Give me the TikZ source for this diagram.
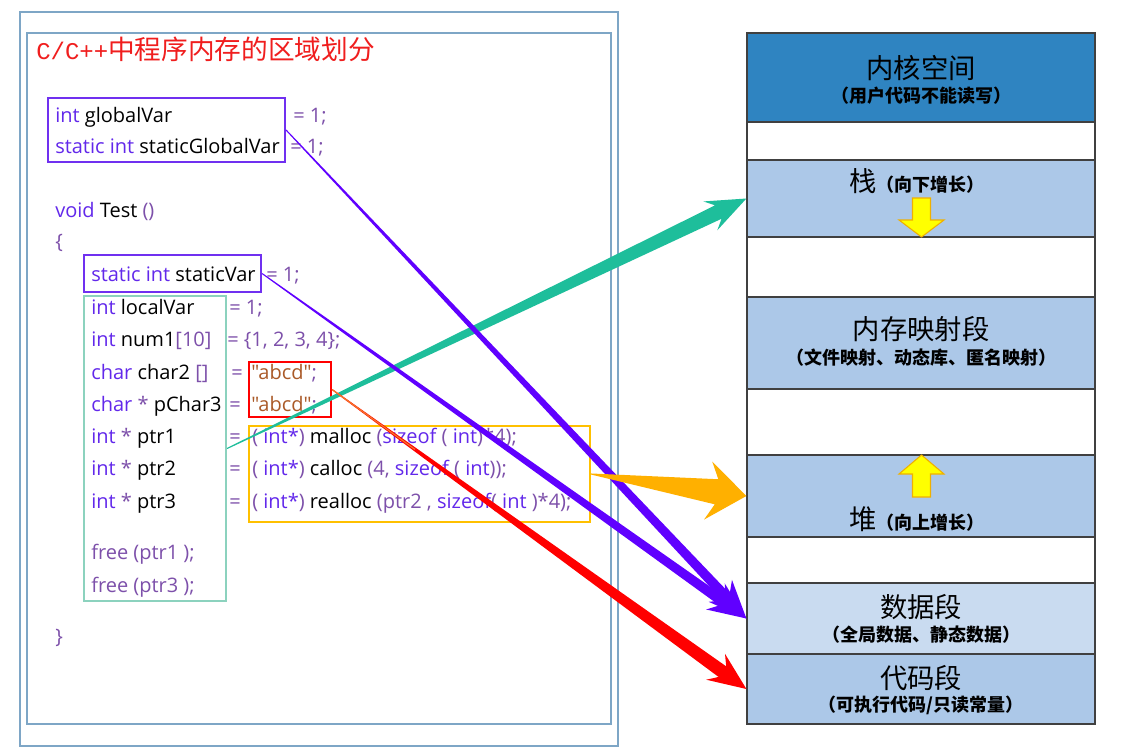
\documentclass[tikz,border=0pt]{standalone}
\usepackage{fontspec}
\setmainfont{Open Sans}[Ligatures=TeXOff]
\newfontfamily\cjk{Noto Sans CJK SC}
\newfontfamily\monof{Liberation Mono}
\usetikzlibrary{calc,fit}
\definecolor{framec}{RGB}{126,166,198}
\definecolor{kernelc}{RGB}{47,132,193}
\definecolor{segc}{RGB}{172,200,232}
\definecolor{datac}{RGB}{201,219,240}
\definecolor{segline}{RGB}{64,64,64}
\definecolor{purpbox}{RGB}{112,48,240}
\definecolor{purparr}{RGB}{96,0,255}
\definecolor{tealarr}{RGB}{30,190,155}
\definecolor{greenbox}{RGB}{140,210,190}
\definecolor{orangearr}{RGB}{255,176,0}
\definecolor{orangebox}{RGB}{255,192,0}
\definecolor{orangeline}{RGB}{245,120,40}
\definecolor{redc}{RGB}{255,0,0}
\definecolor{titlec}{RGB}{240,30,30}
\definecolor{yelc}{RGB}{255,255,0}
\definecolor{yelline}{RGB}{240,176,0}
\definecolor{kw}{RGB}{98,40,235}
\definecolor{op}{RGB}{125,80,170}
\definecolor{strc}{RGB}{170,90,40}
\newcommand\K[1]{\textcolor{kw}{#1}}
\newcommand\Op[1]{\textcolor{op}{#1}}
\newcommand\St[1]{\textcolor{strc}{#1}}
% tapered arrow: colour, from, to, shaft half width, head half width, head length
\newcommand\taperarrow[6]{%
  \path (#2) coordinate (tS) (#3) coordinate (tT);
  \coordinate (tH) at ($(tT)!#6!(tS)$);
  \coordinate (tJ) at ($(tH)!0.22!(tT)$);
  \fill[#1] ($(tS)!0.4pt!90:(tT)$) -- ($(tJ)!#4!90:(tT)$) -- ($(tH)!#5!90:(tT)$)
    -- (tT) -- ($(tH)!#5!-90:(tT)$) -- ($(tJ)!#4!-90:(tT)$) -- ($(tS)!0.4pt!-90:(tT)$) -- cycle;
}
\begin{document}
\begin{tikzpicture}[x=0.75pt,y=-0.75pt,
  code/.style={anchor=base west, inner sep=0, font=\fontsize{15}{18}\selectfont},
  frame/.style={draw=framec, line width=1pt, inner sep=0},
  segbox/.style={draw=segline, line width=0.9pt, inner sep=0},
  hlbox/.style={line width=1.6pt, inner sep=0},
  head/.style={font=\cjk\fontsize{20.5}{24}\selectfont, inner sep=0},
  sub/.style={font=\cjk\bfseries\fontsize{13.5}{16}\selectfont, inner sep=0},
  growarrow/.style={fill=yelc, draw=yelline, line width=0.8pt}]
\useasboundingbox (0,0) rectangle (1130,754);
\fill[white] (0,0) rectangle (1130,754);
% frames
\node[frame, fit={(20,12)(618,746)}] (outer) {};
\node[frame, fit={(27,33)(611,724)}] (inner) {};
\node[anchor=west, inner sep=0, text=titlec] (title) at (36,49)
  {{\monof\fontsize{18}{22}\selectfont C/C++}{\cjk\fontsize{20}{24}\selectfont 中程序内存的区域划分}};
% code
\node[code] (l1) at (55,122) {\K{int} globalVar};
\node[code] (l1b) at (293,122) {\Op{= 1;}};
\node[code] (l2) at (55,153) {\K{static int} staticGlobalVar};
\node[code] (l2b) at (290,153) {\Op{= 1;}};
\node[code] (l3) at (55,217) {\K{void} Test \Op{()}};
\node[code] (l4) at (55,248) {\Op{\{}};
\node[code] (l5) at (91,281) {\K{static int} staticVar};
\node[code] (l5b) at (266,281) {\Op{= 1;}};
\node[code] (l6) at (91,314) {\K{int} localVar};
\node[code] (l6b) at (229,314) {\Op{= 1;}};
\node[code] (l7) at (91,346) {\K{int} num1\Op{[10]}};
\node[code] (l7b) at (227,346) {\Op{= \{1, 2, 3, 4\};}};
\node[code] (l8) at (91,379) {\K{char} char2 \Op{[]}};
\node[code] (l8b) at (231,379) {\Op{=}};
\node[code] (l8c) at (251,379) {\St{"abcd"}\Op{;}};
\node[code] (l9) at (91,411) {\K{char} \Op{*} pChar3};
\node[code] (l9b) at (229,411) {\Op{=}};
\node[code] (l9c) at (251,411) {\St{"abcd"}\Op{;}};
\node[code] (l10) at (91,443) {\K{int} \Op{*} ptr1};
\node[code] (l10b) at (229,443) {\Op{=}};
\node[code] (l10c) at (252,443) {\Op{(} \K{int*}\Op{)} malloc \Op{(}\K{sizeof} \Op{(} \K{int}\Op{)*4);}};
\node[code] (l11) at (91,475) {\K{int} \Op{*} ptr2};
\node[code] (l11b) at (229,475) {\Op{=}};
\node[code] (l11c) at (252,475) {\Op{(} \K{int*}\Op{)} calloc \Op{(4,} \K{sizeof} \Op{(} \K{int}\Op{));}};
\node[code] (l12) at (91,508) {\K{int} \Op{*} ptr3};
\node[code] (l12b) at (229,508) {\Op{=}};
\node[code] (l12c) at (252,508) {\Op{(} \K{int*}\Op{)} realloc \Op{(ptr2 ,} \K{sizeof}\Op{(} \K{int} \Op{)*4);}};
\node[code] (l13) at (91,559) {\Op{free (ptr1 );}};
\node[code] (l14) at (91,592) {\Op{free (ptr3 );}};
\node[code] (l15) at (55,643) {\Op{\}}};
% highlight boxes
\node[hlbox, draw=purpbox, fit={(48,98)(285,162)}] (gbox) {};
\node[hlbox, draw=purpbox, fit={(84,255)(261,292)}] (sbox) {};
\node[hlbox, draw=greenbox, fit={(84,296)(226,601)}] (lbox) {};
\node[hlbox, draw=redc, fit={(249,362)(331,417)}] (rbox) {};
\node[hlbox, draw=orangebox, fit={(249,426)(590,522)}] (obox) {};
% memory layout
\node[segbox, fill=kernelc, fit={(747,33)(1095,122)}] (kernel) {};
\node[segbox, fill=white, fit={(747,122)(1095,160)}] (gap1) {};
\node[segbox, fill=segc, fit={(747,160)(1095,237)}] (stack) {};
\node[segbox, fill=white, fit={(747,237)(1095,297)}] (gap2) {};
\node[segbox, fill=segc, fit={(747,297)(1095,389)}] (mmap) {};
\node[segbox, fill=white, fit={(747,389)(1095,455)}] (gap3) {};
\node[segbox, fill=segc, fit={(747,455)(1095,537)}] (heap) {};
\node[segbox, fill=white, fit={(747,537)(1095,583)}] (gap4) {};
\node[segbox, fill=datac, fit={(747,583)(1095,654)}] (data) {};
\node[segbox, fill=segc, fit={(747,654)(1095,724)}] (code) {};
\node[head] (kt) at (921,68) {内核空间};
\node[sub] (ks) at (921,96) {（用户代码不能读写）};
\node[inner sep=0] (st) at (917,181) {{\cjk\fontsize{20.5}{24}\selectfont 栈}{\cjk\bfseries\fontsize{13.5}{16}\selectfont （向下增长）}};
\node[head] (mt) at (921,329) {内存映射段};
\node[sub] (ms) at (921,358) {（文件映射、动态库、匿名映射）};
\node[inner sep=0] (ht) at (917,519) {{\cjk\fontsize{20.5}{24}\selectfont 堆}{\cjk\bfseries\fontsize{13.5}{16}\selectfont （向上增长）}};
\node[head] (dt) at (921,607) {数据段};
\node[sub] (ds) at (921,635) {（全局数据、静态数据）};
\node[head] (ct) at (921,678) {代码段};
\node[sub] (cs) at (921,705) {（可执行代码/只读常量）};
% growth arrows
\draw[growarrow] (912.5,198) -- (930.5,198) -- (930.5,220) -- (944,220) -- (921.5,237) -- (899,220) -- (912.5,220) -- cycle;
\draw[growarrow] (921.5,455) -- (944,474) -- (930.5,474) -- (930.5,497) -- (912.5,497) -- (912.5,474) -- (899,474) -- cycle;
% connectors
\taperarrow{tealarr}{lbox.east}{stack.west}{5.6pt}{12pt}{30pt}
\taperarrow{purparr}{gbox.east}{data.west}{3.75pt}{12pt}{28.5pt}
\taperarrow{purparr}{sbox.east}{data.west}{3.75pt}{12pt}{28.5pt}
\taperarrow{orangearr}{obox.east}{heap.west}{9.5pt}{22pt}{29pt}
\taperarrow{redc}{rbox.east}{code.west}{4.9pt}{12pt}{28.5pt}
\draw[orangeline, line width=0.9pt] (rbox.east) -- ($(rbox.east)!0.2!(code.west)$);
\end{tikzpicture}
\end{document}
